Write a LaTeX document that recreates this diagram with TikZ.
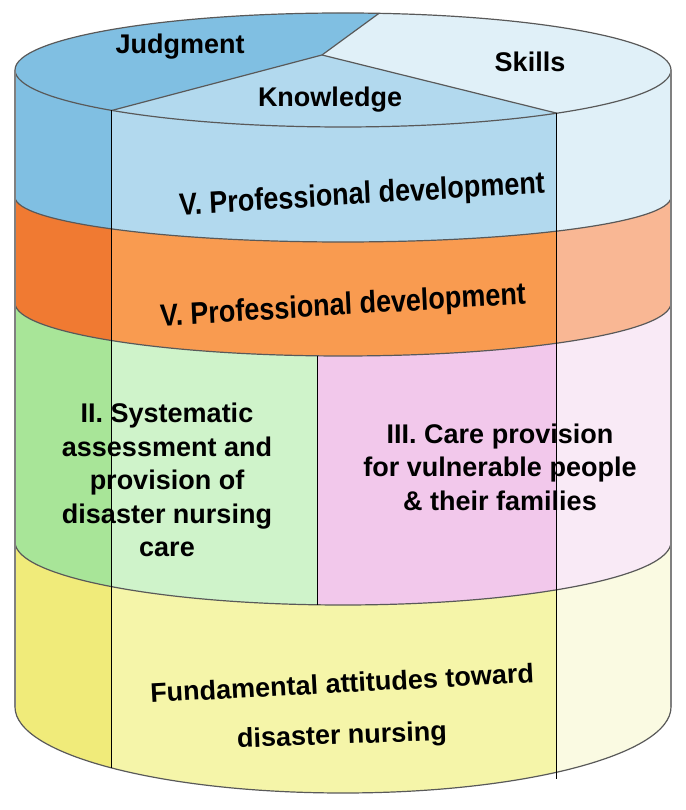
\documentclass[tikz,border=0pt]{standalone}
\usepackage{fontspec}
\setmainfont{Liberation Sans}
\definecolor{bluL}{HTML}{80BFE2}
\definecolor{bluM}{HTML}{B2D9EE}
\definecolor{bluR}{HTML}{E0F0F8}
\definecolor{orL}{HTML}{F07A32}
\definecolor{orM}{HTML}{F99B50}
\definecolor{orR}{HTML}{F9B794}
\definecolor{grL}{HTML}{A8E598}
\definecolor{grM}{HTML}{CFF3CA}
\definecolor{pkM}{HTML}{F2C8EB}
\definecolor{pkR}{HTML}{F9EAF6}
\definecolor{yeL}{HTML}{F0EB7A}
\definecolor{yeM}{HTML}{F5F5A9}
\definecolor{yeR}{HTML}{FAFAE2}
% strip between upper ellipse (cA,ryA) and lower ellipse (cB,ryB), angles t1..t2
\newcommand\mystrip[7]{%
  \fill[#7] ([shift={(343,#1)}]#5:328 and #2)
    arc[start angle=#5, end angle=#6, x radius=328, y radius=#2]
    -- ([shift={(343,#3)}]#6:328 and #4)
    arc[start angle=#6, end angle=#5, x radius=328, y radius=#4] -- cycle;}
\tikzset{
  lbl/.style={font=\bfseries\fontsize{27}{33.5}\selectfont, inner sep=0pt, align=center},
  tall/.style={font=\bfseries\fontsize{31}{36}\selectfont, inner sep=0pt, xscale=0.87},
  rim/.style={draw=black!65, line width=1.2pt},
  side/.style={draw=black!50, line width=1.5pt},
  inner/.style={draw=black, line width=1.2pt}
}
\begin{document}
\begin{tikzpicture}[x=1pt,y=1pt]
\useasboundingbox (0,0) rectangle (685,810);
% key points
\coordinate (T) at ([shift={(343,740)}]83.7:328 and 57);
\coordinate (Q) at (322,755);
\coordinate (PL) at ([shift={(343,740)}]225.2:328 and 57);
\coordinate (PR) at ([shift={(343,740)}]310.7:328 and 57);
% top face
\fill[bluL] (T) -- (Q) -- (PL) arc[start angle=225.2, end angle=83.7, x radius=328, y radius=57] -- cycle;
\fill[bluR] (T) -- (Q) -- (PR) arc[start angle=310.7, end angle=443.7, x radius=328, y radius=57] -- cycle;
\fill[bluM] (Q) -- (PL) arc[start angle=225.2, end angle=310.7, x radius=328, y radius=57] -- cycle;
% blue band
\mystrip{740}{57}{613}{45}{180}{225.2}{bluL}
\mystrip{740}{57}{613}{45}{225.2}{310.7}{bluM}
\mystrip{740}{57}{613}{45}{310.7}{360}{bluR}
% orange band
\mystrip{613}{45}{507}{53}{180}{225.2}{orL}
\mystrip{613}{45}{507}{53}{225.2}{310.7}{orM}
\mystrip{613}{45}{507}{53}{310.7}{360}{orR}
% green / pink band
\mystrip{507}{53}{268}{63}{180}{225.2}{grL}
\mystrip{507}{53}{268}{63}{225.2}{265.6}{grM}
\mystrip{507}{53}{268}{63}{265.6}{310.7}{pkM}
\mystrip{507}{53}{268}{63}{310.7}{360}{pkR}
% yellow band
\mystrip{268}{63}{103}{86}{180}{225.2}{yeL}
\mystrip{268}{63}{103}{86}{225.2}{310.7}{yeM}
\mystrip{268}{63}{103}{86}{310.7}{360}{yeR}
% rims
\draw[rim] (343,740) ellipse[x radius=328, y radius=57];
\draw[rim] (15,613) arc[start angle=180, end angle=360, x radius=328, y radius=45];
\draw[rim] (15,507) arc[start angle=180, end angle=360, x radius=328, y radius=53];
\draw[rim] (15,268) arc[start angle=180, end angle=360, x radius=328, y radius=63];
\draw[rim] (15,103) arc[start angle=180, end angle=360, x radius=328, y radius=86];
% sides
\draw[side] (15,740) -- (15,103);
\draw[side] (671,740) -- (671,103);
% top divisions
\draw[rim] (T) -- (Q) -- (PL);
\draw[rim] (Q) -- (PR);
% inner verticals
\coordinate (BL) at ([shift={(343,103)}]225.2:328 and 86);
\coordinate (BR) at ([shift={(343,96)}]310.7:328 and 86);
\coordinate (DT) at ([shift={(343,507)}]265.6:328 and 53);
\coordinate (DB) at ([shift={(343,268)}]265.6:328 and 63);
\draw[inner] (PL) -- (BL);
\draw[inner] (PR) -- (BR);
\draw[inner] (DT) -- (DB);
% labels
\node[lbl] (judg) at (180,763) {Judgment};
\node[lbl] (skil) at (530,748) {Skills};
\node[lbl] (know) at (330,710) {Knowledge};
\node[tall, rotate=3] (pd1) at (362,614) {V. Professional development};
\node[tall, rotate=3] (pd2) at (343,503) {V. Professional development};
\node[lbl] (sys) at (167,330) {II. Systematic\\assessment and\\provision of\\disaster nursing\\care};
\node[lbl] (care) at (500,343) {III. Care provision\\for vulnerable people\\\& their families};
\node[lbl, rotate=3] (fund) at (342,127) {Fundamental attitudes toward};
\node[lbl, rotate=2] (dis) at (342,73) {disaster nursing};
\end{tikzpicture}
\end{document}
